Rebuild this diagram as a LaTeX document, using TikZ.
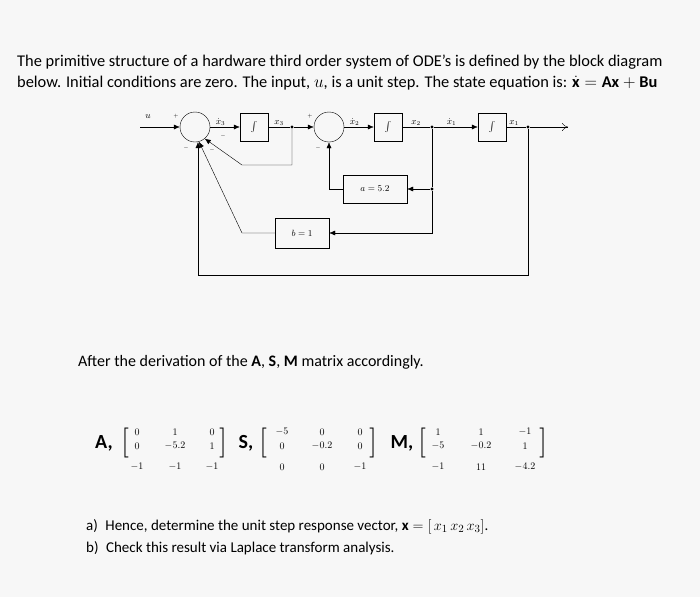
\documentclass[tikz,border=0pt]{standalone}
\usepackage{fontspec}
\setmainfont{Carlito}
\newfontfamily\lm{Latin Modern Roman}
\usetikzlibrary{arrows.meta}
\begin{document}
\begin{tikzpicture}[x=1pt,y=-1pt,
  blk/.style={draw,minimum width=28pt,minimum height=28pt,inner sep=0pt,font=\lm\small},
  gain/.style={draw,inner sep=0pt,font=\lm\small},
  sm/.style={draw,circle,minimum size=30pt,inner sep=0pt},
  sig/.style={font=\lm\small,inner sep=1pt},
  ar/.style={-{Latex[length=6pt,width=5pt]}},
  dot/.style={circle,fill,inner sep=1.2pt},
  num/.style={font=\lm\fontsize{10}{10}\selectfont,inner sep=0pt},
  big/.style={font=\bfseries\fontsize{20}{20}\selectfont,inner sep=0pt},
  brk/.style={font=\lm\fontsize{30}{30}\selectfont,inner sep=0pt},
  body/.style={anchor=west,inner sep=0pt,font=\fontsize{16.4}{18}\selectfont}]
\fill[gray!6] (0,0) rectangle (700,597);
\useasboundingbox (0,0) rectangle (700,597);
% text
\node[body] (t1) at (17,62) {The primitive structure of a hardware third order system of ODE's is defined by the block diagram};
\node[body] (t2) at (17,83) {below. Initial conditions are zero. The input, $u$, is a unit step. The state equation is: $\dot{\mathbf{x}} = \mathbf{Ax} + \mathbf{Bu}$};
% diagram
\coordinate (u) at (140,127);
\node[sig] (ul) at (148,117) {$u$};
\node[sm] (s1) at (195,127) {};
\node[blk] (i1) at (254,127) {$\int$};
\node[dot] (d3) at (292,127) {};
\node[sm] (s2) at (329,127) {};
\node[blk] (i2) at (388,127) {$\int$};
\node[dot] (d2) at (432,127) {};
\node[blk] (i3) at (492,127) {$\int$};
\node[dot] (d1) at (528,127) {};
\coordinate (out) at (568,127);
\node[gain,minimum width=64pt,minimum height=28pt] (ga) at (375,189) {$a = 5.2$};
\node[dot] (da) at (432,189) {};
\node[gain,minimum width=54pt,minimum height=30pt] (gb) at (302,233) {$b = 1$};
\coordinate (bot) at (198,275);
\coordinate (s1b) at (198,142);
\draw[ar] (u) -- (s1);
\draw[ar] (s1) -- node[sig,above,pos=.35]{$\dot x_3$} (i1);
\draw (i1) -- node[sig,above]{$x_3$} (d3);
\draw[ar] (d3) -- (s2);
\draw[ar] (s2) -- node[sig,above,pos=.35]{$\dot x_2$} (i2);
\draw (i2) -- node[sig,above]{$x_2$} (d2);
\draw[ar] (d2) -- node[sig,above,pos=.4]{$\dot x_1$} (i3);
\draw (i3) -- node[sig,above,pos=.4]{$x_1$} (d1);
\draw[-{To[length=6pt,width=8pt]}] (d1) -- (out);
\draw[ar] (d3) |- (242,165) -- (s1.-50);
\draw (d2) -- (da);
\draw[ar] (da) -- (ga);
\draw[ar] (ga.west) -| (s2.south);
\draw[ar] (da) |- (gb.east);
\draw[ar] (gb.west) -- (242,233) -- (s1.-75);
\draw[ar] (d1) |- (bot) -- (s1b);
\node[sig] (p1) at (176,116) {\tiny$+$};
\node[sig] (p2) at (310,116) {\tiny$+$};
\node[sig] (m1) at (186,148) {\tiny$-$};
\node[sig] (m2) at (212,150) {\tiny$-$};
\node[sig] (m3) at (223,136) {\tiny$-$};
\node[sig] (m4) at (318,148) {\tiny$-$};
% after
\node[body,font=\fontsize{16}{18}\selectfont] (t3) at (78,362) {After the derivation of the \textbf{A}, \textbf{S}, \textbf{M} matrix accordingly.};
% matrices
\node[big] (A) at (104,443) {A,};
\node[brk] (a1) at (125,443) {[};
\node[brk] (a2) at (223,443) {]};
\node[big] (S) at (246,443) {S,};
\node[brk] (b1) at (263,443) {[};
\node[brk] (b2) at (373,443) {]};
\node[big] (M) at (402,443) {M,};
\node[brk] (c1) at (422,443) {[};
\node[brk] (c2) at (543,443) {]};
\foreach \x/\a/\b/\c [count=\i] in {137/0/0/$-1$,175/1/$-5.2$/$-1$,212/0/1/$-1$}{
  \node[num] (na\i1) at (\x,432) {\a};
  \node[num] (na\i2) at (\x,446) {\b};
  \node[num] (na\i3) at (\x,467) {\c};}
\foreach \x/\a/\b/\c [count=\i] in {282/$-5$/0/0,322/0/$-0.2$/0,360/0/0/$-1$}{
  \node[num] (ns\i1) at (\x,432) {\a};
  \node[num] (ns\i2) at (\x,446) {\b};
  \node[num] (ns\i3) at (\x,467) {\c};}
\foreach \x/\a/\b/\c [count=\i] in {438/1/$-5$/$-1$,481/1/$-0.2$/11,525/$-1$/1/$-4.2$}{
  \node[num] (nm\i1) at (\x,432) {\a};
  \node[num] (nm\i2) at (\x,446) {\b};
  \node[num] (nm\i3) at (\x,467) {\c};}
\node[body,font=\fontsize{15}{17}\selectfont] (qa) at (86,527) {a)\enspace Hence, determine the unit step response vector, $\mathbf{x} = [\,x_1\,x_2\,x_3]$.};
\node[body,font=\fontsize{15}{17}\selectfont] (qb) at (86,548) {b)\enspace Check this result via Laplace transform analysis.};
\end{tikzpicture}
\end{document}
